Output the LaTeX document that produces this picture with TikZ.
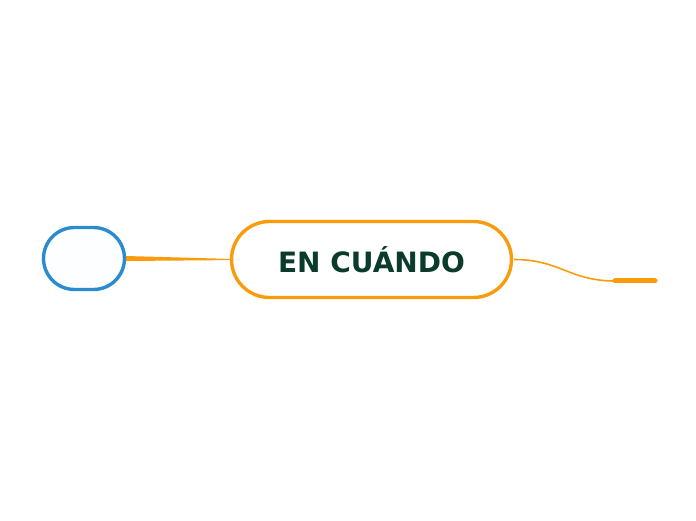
\documentclass[tikz,border=0pt]{standalone}
\usepackage{fontspec}
\setmainfont{DejaVu Sans}
\definecolor{orangeline}{HTML}{F89C0E}
\definecolor{bluebox}{HTML}{2A8BCF}
\definecolor{titlegreen}{HTML}{0B3B2C}
\definecolor{palefill}{HTML}{FCFEFF}
\tikzset{
  mainbox/.style={draw=orangeline, line width=3.4pt, rounded corners=38pt, minimum width=280pt, minimum height=76pt, fill=white, inner sep=0pt, font=\fontsize{28}{30}\selectfont\bfseries, text=titlegreen},
  subbox/.style={draw=bluebox, line width=3.4pt, rounded corners=31pt, minimum width=81pt, minimum height=62pt, fill=palefill, inner sep=0pt},
  conn/.style={orangeline, line width=1.6pt},
}
\begin{document}
\begin{tikzpicture}[x=1pt,y=1pt]
\useasboundingbox (0,0) rectangle (696,520);
\node[mainbox] (main) at (371.5,260.5) {EN CUÁNDO};
\node[subbox] (sub) at (84,261.5) {};
\fill[orangeline] ([yshift=2.5pt]sub.east) -- ([yshift=0.6pt]main.west) -- ([yshift=-0.6pt]main.west) -- ([yshift=-2.5pt]sub.east) -- cycle;
\coordinate (tipA) at (615,239);
\coordinate (tipB) at (655,239);
\draw[conn] ([xshift=1pt]main.east) .. controls +(45,0) and +(-45,0) .. (tipA);
\draw[orangeline, line width=5pt, line cap=round] (tipA) -- (tipB);
\end{tikzpicture}
\end{document}
